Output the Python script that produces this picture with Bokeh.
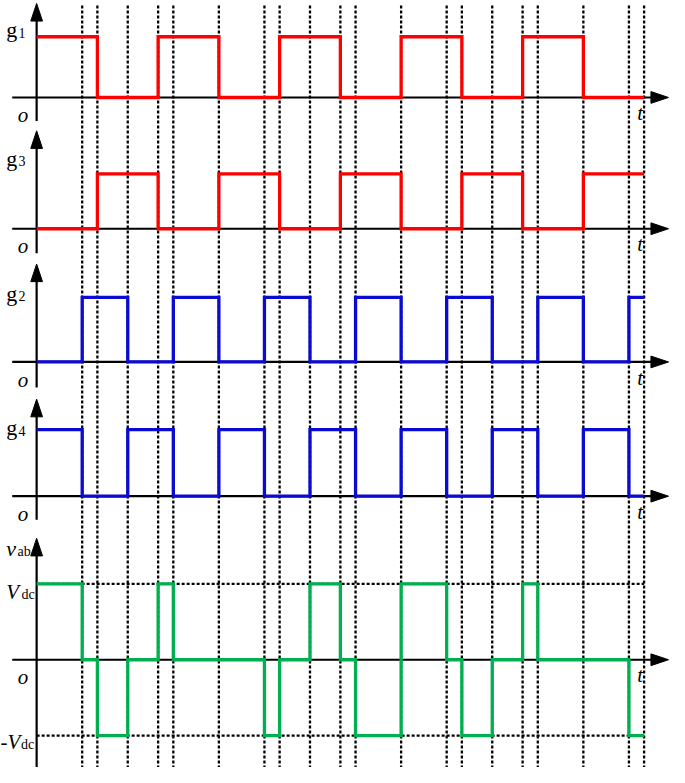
from bokeh.plotting import figure
from bokeh.models import Range1d
from bokeh.core.properties import value
from bokeh.embed import file_html
from bokeh.resources import INLINE

# ---------------- data (time in switching units) ----------------
guide_times = [3, 4, 6, 8, 9, 12, 15, 16, 18, 20, 21, 24, 27, 28, 30, 32, 33, 36, 39, 40]

g1_t = [0, 4, 8, 12, 16, 20, 24, 28, 32, 36, 40]
g1_v = [1, 0, 1, 0, 1, 0, 1, 0, 1, 0]

g3_t = [0, 4, 8, 12, 16, 20, 24, 28, 32, 36, 40]
g3_v = [0, 1, 0, 1, 0, 1, 0, 1, 0, 1]

g2_t = [0, 3, 6, 9, 12, 15, 18, 21, 24, 27, 30, 33, 36, 39, 40]
g2_v = [0, 1, 0, 1, 0, 1, 0, 1, 0, 1, 0, 1, 0, 1]

g4_t = [0, 3, 6, 9, 12, 15, 18, 21, 24, 27, 30, 33, 36, 39, 40]
g4_v = [1, 0, 1, 0, 1, 0, 1, 0, 1, 0, 1, 0, 1, 0]

vab_t = [0, 3, 4, 6, 8, 9, 15, 16, 18, 20, 21, 24, 27, 28, 30, 32, 33, 39, 40]
vab_v = [1, 0, -1, 0, 1, 0, -1, 0, 1, 0, -1, 1, 0, -1, 0, 1, 0, -1]

vdc_levels = [1, -1]

# ---------------- layout (reference pixel space) ----------------
REF_W, REF_H = 685, 783
T0_PX = 37.0
PX_PER_T = 15.55
W, H = 669, 767


def tx(px):
    return (px - T0_PX) / PX_PER_T


RED = "#FF0000"
BLUE = "#0A0AD2"
GREEN = "#00B050"
FONT = value("'Liberation Serif'")

panels = [
    dict(t=g1_t, v=g1_v, base=99, amp=62, tip=3, bottom=123, color=RED,
         name="g", sub="1", lab_base=30, style="normal", sub_x=18.5),
    dict(t=g3_t, v=g3_v, base=233, amp=56, tip=133, bottom=258, color=RED,
         name="g", sub="3", lab_base=161, style="normal", sub_x=18.5),
    dict(t=g2_t, v=g2_v, base=369, amp=66, tip=269, bottom=395, color=BLUE,
         name="g", sub="2", lab_base=299, style="normal", sub_x=18.5),
    dict(t=g4_t, v=g4_v, base=506, amp=68, tip=407, bottom=530, color=BLUE,
         name="g", sub="4", lab_base=436, style="normal", sub_x=18.5),
    dict(t=vab_t, v=vab_v, base=673, amp=77.5, tip=549, bottom=783, color=GREEN,
         name="v", sub="ab", lab_base=559, style="italic", sub_x=17.5),
]

p = figure(width=W, height=H, output_backend="svg", toolbar_location=None,
           x_range=Range1d(tx(0), tx(REF_W)), y_range=Range1d(REF_H, 0),
           min_border=0, tools="")
p.axis.visible = False
p.grid.visible = False
p.outline_line_color = None
p.background_fill_color = "white"
p.border_fill_color = "white"

# dashed vertical guides
p.segment(x0=guide_times, x1=guide_times, y0=[5] * len(guide_times),
          y1=[REF_H] * len(guide_times), line_color="black", line_width=2.3,
          line_dash="3 2")

# dashed +-Vdc guides
vp = panels[4]
p.segment(x0=[0] * len(vdc_levels), x1=[40] * len(vdc_levels),
          y0=[vp["base"] - vp["amp"] * l for l in vdc_levels],
          y1=[vp["base"] - vp["amp"] * l for l in vdc_levels],
          line_color="black", line_width=2.3, line_dash="3 2")

HW = 6.0  # arrow half width px
HL = 18.0  # arrow length px

for pn in panels:
    base, amp = pn["base"], pn["amp"]
    # axes
    p.segment(x0=[0], x1=[0], y0=[pn["tip"] + 10], y1=[pn["bottom"]],
              line_color="black", line_width=2.2)
    p.segment(x0=[tx(12)], x1=[tx(672)], y0=[base], y1=[base],
              line_color="black", line_width=2.2)
    # arrowheads
    p.patch(x=[0, -HW / PX_PER_T, HW / PX_PER_T],
            y=[pn["tip"], pn["tip"] + HL, pn["tip"] + HL],
            fill_color="black", line_color="black", line_width=1)
    p.patch(x=[tx(684), tx(684 - HL), tx(684 - HL)],
            y=[base, base - HW, base + HW],
            fill_color="black", line_color="black", line_width=1)
    # signal
    ys = [base - amp * v for v in pn["v"]]
    ys.append(ys[-1])
    p.step(x=pn["t"], y=ys, mode="after", line_color=pn["color"],
           line_width=3.3, line_join="miter")
    # labels
    p.text(x=[tx(6)], y=[pn["lab_base"]], text=[pn["name"]], text_font=FONT,
           text_font_style=pn["style"], text_font_size="22px",
           text_baseline="alphabetic", text_align="left", text_color="black")
    p.text(x=[tx(pn["sub_x"])], y=[pn["lab_base"] + 3], text=[pn["sub"]],
           text_font=FONT, text_font_size="14px", text_baseline="alphabetic",
           text_align="left", text_color="black")
    p.text(x=[tx(23)], y=[base + 18], text=["o"], text_font=FONT,
           text_font_style="italic", text_font_size="21px",
           text_baseline="middle", text_align="center", text_color="black")
    p.text(x=[tx(655)], y=[base + 16], text=["t"], text_font=FONT,
           text_font_style="italic", text_font_size="21px",
           text_baseline="middle", text_align="center", text_color="black")

# Vdc labels
p.text(x=[tx(6)], y=[604], text=["V"], text_font=FONT, text_font_style="italic",
       text_font_size="21px", text_baseline="alphabetic", text_align="left")
p.text(x=[tx(21.5)], y=[606], text=["dc"], text_font=FONT, text_font_size="14px",
       text_baseline="alphabetic", text_align="left")
p.text(x=[tx(0)], y=[757], text=["-V"], text_font=FONT, text_font_style="italic",
       text_font_size="21px", text_baseline="alphabetic", text_align="left")
p.text(x=[tx(21)], y=[760], text=["dc"], text_font=FONT, text_font_size="14px",
       text_baseline="alphabetic", text_align="left")

open("out.html", "w").write(file_html(p, INLINE))
